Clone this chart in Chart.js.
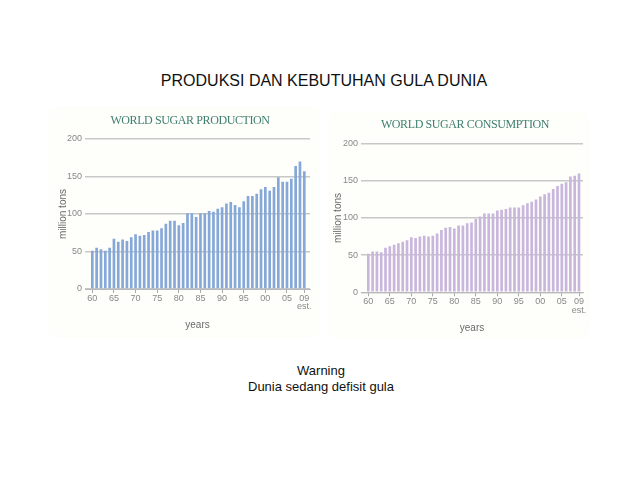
<!DOCTYPE html>
<html>
<head>
<meta charset="utf-8">
<script src="https://cdn.jsdelivr.net/npm/chart.js@4.4.0/dist/chart.umd.min.js"></script>
<style>
body{margin:0;background:#fff;width:638px;height:493px;position:relative;overflow:hidden;font-family:"Liberation Sans",Arial,sans-serif;}
.head{position:absolute;left:0;width:648px;top:73px;text-align:center;font-size:16px;line-height:16px;color:#111;}
.note{position:absolute;left:0;width:642px;top:363px;text-align:center;font-size:13px;line-height:16px;color:#111;}
.panel{position:absolute;background:#fefefb;border-radius:6px;box-shadow:0 0 2px #f8f8ec;}
canvas{position:absolute;}
</style>
</head>
<body>
<div class="head">PRODUKSI DAN KEBUTUHAN GULA DUNIA</div>
<div class="panel" style="left:50px;top:108px;width:268px;height:228px;"></div>
<div class="panel" style="left:330px;top:113px;width:258px;height:224px;"></div>
<canvas id="prod" style="left:50px;top:108px;"></canvas>
<canvas id="cons" style="left:330px;top:113px;"></canvas>
<div class="note">Warning<br>Dunia sedang defisit gula</div>
<script>
// years on the x axis, one bar per year
var years = [1960,1961,1962,1963,1964,1965,1966,1967,1968,1969,
	1970,1971,1972,1973,1974,1975,1976,1977,1978,1979,
	1980,1981,1982,1983,1984,1985,1986,1987,1988,1989,
	1990,1991,1992,1993,1994,1995,1996,1997,1998,1999,
	2000,2001,2002,2003,2004,2005,2006,2007,2008,2009];
var tickYears = [1960,1965,1970,1975,1980,1985,1990,1995,2000,2005,2009];
var tickLabels = ['60','65','70','75','80','85','90','95','00','05',['09','est.']];
var yTicks = [0,50,100,150,200];

// million tons
var production = [51,55,53,51,55,67,63,66,64,69,
	73,71,72,76,78,78,81,87,91,91,
	85,88,101,101,96,101,101,104,103,107,
	109,114,116,112,109,117,124,124,127,133,
	136,131,136,149,143,143,147,164,170,157];
var consumption = [52,55,55,54,60,62,64,66,68,70,
	74,73,75,76,75,76,79,84,87,88,
	86,90,90,93,94,99,102,106,106,106,
	110,111,112,114,114,114,117,120,122,125,
	129,132,134,139,143,146,148,156,157,160];

var panelTitle = {
	id:'panelTitle',
	afterDraw:function(chart, args, opts){
		var ctx = chart.ctx;
		ctx.save();
		ctx.font = '12px "Liberation Serif", serif';
		ctx.letterSpacing = '-0.4px';
		ctx.fillStyle = '#3f7f6f';
		ctx.textAlign = 'center';
		ctx.textBaseline = 'middle';
		ctx.fillText(opts.text, opts.x, opts.y);
		ctx.restore();
	}
};

function makeChart( id, w, h, title, values, color, g ){
	var cv = document.getElementById(id);
	cv.width = w; cv.height = h;
	cv.style.width = w + 'px'; cv.style.height = h + 'px';
	var pts = [];
	years.forEach(function(y, i){ pts.push({ x: y, y: values[i] }); });
	return new Chart(cv, {
		type:'bar',
		data:{ datasets:[{ data: pts, backgroundColor: color, borderWidth: 0,
			barPercentage: 0.62, categoryPercentage: 1 }] },
		plugins:[ panelTitle ],
		options:{
			responsive:false, animation:false, devicePixelRatio:1,
			layout:{ padding:{ top: g.top, right: g.right, left: 0, bottom: 0 } },
			plugins:{
				legend:{ display:false }, tooltip:{ enabled:false },
				panelTitle:{ text: title, x: g.tx, y: g.ty }
			},
			scales:{
				x:{
					type:'linear', min: g.xmin, max: g.xmax, offset:false,
					afterBuildTicks:function(s){ s.ticks = tickYears.map(function(v){ return { value: v }; }); },
					afterFit:function(s){ s.height = g.xh; },
					ticks:{ autoSkip:false, maxRotation:0, padding:1,
						color:'#888', font:{ family:'"Liberation Sans", Arial', size:9, lineHeight:0.95 },
						callback:function(v){ return tickLabels[tickYears.indexOf(v)]; } },
					grid:{ offset:false, drawOnChartArea:false, drawTicks:true, tickLength:4, color:'#a8a8a8', lineWidth:1 },
					border:{ display:true, color:'#b8b8b8', width:1 },
					title:{ display:true, text:'years', color:'#6a6a6a',
						font:{ family:'"Liberation Sans", Arial', size:10, lineHeight:1.2 },
						padding:{ top:0, bottom:5 } }
				},
				y:{
					min:0, max:200,
					afterBuildTicks:function(s){ s.ticks = yTicks.map(function(v){ return { value: v }; }); },
					afterFit:function(s){ s.width = g.yw; },
					ticks:{ padding:3, color:'#888', font:{ family:'"Liberation Sans", Arial', size:9 } },
					grid:{ drawTicks:false, color:'#c8c8c8', lineWidth:1.5 },
					border:{ display:false },
					title:{ display:true, text:'million tons', color:'#6a6a6a',
						font:{ family:'"Liberation Sans", Arial', size:10, lineHeight:1.2 },
						padding:{ top: g.tpad, bottom:0 } }
				}
			}
		}
	});
}

makeChart('prod', 268, 228, 'WORLD SUGAR PRODUCTION', production, '#86a8d8',
	{ top:31, right:8, xh:47, yw:35, tpad:7, xmin:1958.31, xmax:2010.32, tx:140, ty:13 });
makeChart('cons', 260, 226, 'WORLD SUGAR CONSUMPTION', consumption, '#c9b6dd',
	{ top:30.7, right:7, xh:46.7, yw:31, tpad:2, xmin:1958.3, xmax:2009.93, tx:135, ty:12 });
</script>
</body>
</html>
